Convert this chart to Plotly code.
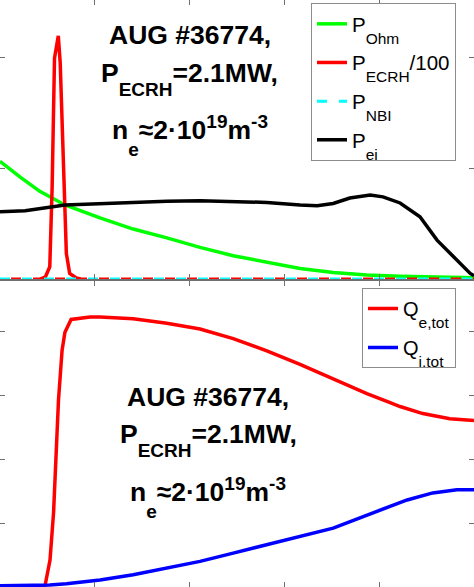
import plotly.graph_objects as go

# ---------------- data ----------------
# top panel: heating power densities vs normalized radius
rho_ohm = [0, 0.042, 0.084, 0.137, 0.211, 0.281, 0.352, 0.422, 0.492, 0.563,
           0.633, 0.703, 0.774, 0.844, 0.922, 1.0]
p_ohm = [1.06, 0.92, 0.79, 0.667, 0.55, 0.45, 0.37, 0.285, 0.21, 0.15,
         0.095, 0.058, 0.036, 0.025, 0.016, 0.012]

rho_ecrh = [0.085, 0.096, 0.105, 0.110, 0.115, 0.123, 0.127, 0.135, 0.140,
            0.147, 0.161, 0.170]
p_ecrh = [0, 0.02, 0.11, 0.83, 1.99, 2.19, 1.95, 0.77, 0.23, 0.05, 0.01, 0]

rho_flat = [0, 1.0]
p_nbi = [0, 0]
p_red_base = [0, 0]

rho_ei = [0, 0.053, 0.137, 0.211, 0.281, 0.352, 0.422, 0.492, 0.563, 0.633,
          0.669, 0.703, 0.738, 0.781, 0.808, 0.844, 0.886, 0.922, 0.956,
          0.992, 1.0]
p_ei = [0.606, 0.615, 0.667, 0.68, 0.69, 0.70, 0.705, 0.70, 0.69, 0.667,
        0.66, 0.68, 0.73, 0.757, 0.74, 0.685, 0.56, 0.35, 0.2, 0.05, 0.03]

# bottom panel: total heat fluxes
rho_qe = [0, 0.09, 0.095, 0.1055, 0.113, 0.1234, 0.131, 0.137, 0.15, 0.19,
          0.211, 0.281, 0.352, 0.422, 0.492, 0.563, 0.633, 0.703, 0.774,
          0.823, 0.844, 0.892, 0.949, 1.0]
q_e = [0, 0, 0.02, 0.42, 1.16, 2.92, 3.7, 3.98, 4.18, 4.22,
       4.22, 4.19, 4.12, 4.03, 3.88, 3.69, 3.48, 3.25, 3.02,
       2.88, 2.82, 2.71, 2.63, 2.6]

rho_qi = [0, 0.105, 0.14, 0.211, 0.281, 0.352, 0.422, 0.492, 0.563, 0.633,
          0.703, 0.787, 0.859, 0.913, 0.964, 1.0]
q_i = [0.02, 0.03, 0.05, 0.11, 0.19, 0.29, 0.40, 0.53, 0.66, 0.80,
       0.92, 1.16, 1.36, 1.47, 1.52, 1.52]

x_ticks = [0.2, 0.4, 0.6, 0.8]
y_ticks_top = [1, 2]
y_ticks_bot = [1, 2, 3, 4]

# ---------------- helpers ----------------
W, H = 474, 587
FONT = "Liberation Sans, Arial, Helvetica, sans-serif"


def sub(t, size, shift):
    return f"<span style='font-size:{size}px;baseline-shift:-{shift}px'>{t}</span>"


def sup(t, size, shift):
    return f"<span style='font-size:{size}px;baseline-shift:{shift}px'>{t}</span>"


def px(xp):
    return xp / W


def py(yp):
    return 1 - yp / H


LW = 3.5
fig = go.Figure()

lg_sub = dict(size=15.5, shift=12)
fig.add_trace(go.Scatter(x=rho_ohm, y=p_ohm, mode="lines", line=dict(color="#00ff00", width=LW),
                         name="P" + sub("Ohm", **lg_sub), legendgroup="a", legend="legend",
                         xaxis="x", yaxis="y"))
fig.add_trace(go.Scatter(x=rho_flat, y=p_red_base, mode="lines",
                         line=dict(color="#ff0000", width=LW - 0.5, dash="0px,11px,10px,1px"),
                         showlegend=False, xaxis="x", yaxis="y"))
fig.add_trace(go.Scatter(x=rho_ecrh, y=p_ecrh, mode="lines", line=dict(color="#ff0000", width=LW),
                         name="P" + sub("ECRH", **lg_sub) + "/100", legendgroup="b", legend="legend",
                         xaxis="x", yaxis="y"))
fig.add_trace(go.Scatter(x=rho_flat, y=p_nbi, mode="lines",
                         line=dict(color="#00ffff", width=LW - 0.5, dash="10px,12px"),
                         name="P" + sub("NBI", **lg_sub), legendgroup="c", legend="legend",
                         xaxis="x", yaxis="y"))
fig.add_trace(go.Scatter(x=rho_ei, y=p_ei, mode="lines", line=dict(color="#000000", width=LW),
                         name="P" + sub("ei", **lg_sub), legendgroup="d", legend="legend",
                         xaxis="x", yaxis="y"))

fig.add_trace(go.Scatter(x=rho_qe, y=q_e, mode="lines", line=dict(color="#ff0000", width=LW),
                         name="Q" + sub("e,tot", **lg_sub), legendgroup="e", legend="legend2",
                         xaxis="x2", yaxis="y2"))
fig.add_trace(go.Scatter(x=rho_qi, y=q_i, mode="lines", line=dict(color="#0000ff", width=LW),
                         name="Q" + sub("i,tot", **lg_sub), legendgroup="f", legend="legend2",
                         xaxis="x2", yaxis="y2"))

axcol = "#707070"
common_x = dict(range=[0, 1], tickvals=x_ticks, showticklabels=False, ticks="inside",
                ticklen=5, tickcolor=axcol, tickwidth=1, showgrid=False, zeroline=False,
                showline=True, linecolor=axcol, linewidth=1, mirror="ticks")
common_y = dict(showticklabels=False, ticks="inside", ticklen=5, tickcolor=axcol, tickwidth=1,
                showgrid=False, zeroline=False, showline=False, mirror="ticks")

top_dom = [py(279), 1.0]
bot_dom = [0.0, py(281)]

ann = []
af = dict(family=FONT, size=26.5, color="black")
s_sub = dict(size=19, shift=14)


def block(xc, y1, y2, y3):
    return [
        dict(text="<b>AUG #36774,</b>", x=px(xc), y=py(y1)),
        dict(text="<b>P" + sub("ECRH", **s_sub) + "=2.1MW,</b>", x=px(xc), y=py(y2)),
        dict(text="<b>n" + sub("e", 19, 17) + "≈2·10" + sup("19", 19, 11) + "m" + sup("-3", 19, 11) + "</b>",
             x=px(xc), y=py(y3)),
    ]


for a in block(189.5, 35, 79, 135) + block(208, 397, 440, 497):
    a.update(xref="paper", yref="paper", xanchor="center", yanchor="middle",
             showarrow=False, font=af)
    ann.append(a)

legend_common = dict(bgcolor="white", bordercolor="#8c8c8c", borderwidth=1,
                     traceorder="grouped", xanchor="left", yanchor="top")

fig.update_layout(
    width=W, height=H,
    autosize=False,
    margin=dict(l=0, r=0, t=0, b=0, pad=0),
    paper_bgcolor="white", plot_bgcolor="white",
    xaxis=dict(domain=[0, 1], anchor="y", **common_x),
    yaxis=dict(domain=top_dom, anchor="x", range=[0, 279 / 111], tickvals=y_ticks_top, **common_y),
    xaxis2=dict(domain=[0, 1], anchor="y2", **common_x),
    yaxis2=dict(domain=bot_dom, anchor="x2", range=[0, 306 / 64], tickvals=y_ticks_bot, **common_y),
    legend=dict(x=px(311), y=py(3), font=dict(family=FONT, size=20.5, color="black"),
                tracegroupgap=9, **legend_common),
    legend2=dict(x=px(362), y=py(288), font=dict(family=FONT, size=20, color="black"),
                 tracegroupgap=10, **legend_common),
    annotations=ann,
    showlegend=True,
    font=dict(family=FONT),
)

fig.write_html(
    "out.html",
    config={"responsive": False, "displayModeBar": False},
    post_script="document.body.style.margin='0';document.body.style.padding='0';"
                "document.body.style.overflow='hidden';"
                "document.documentElement.style.overflow='hidden';",
)
